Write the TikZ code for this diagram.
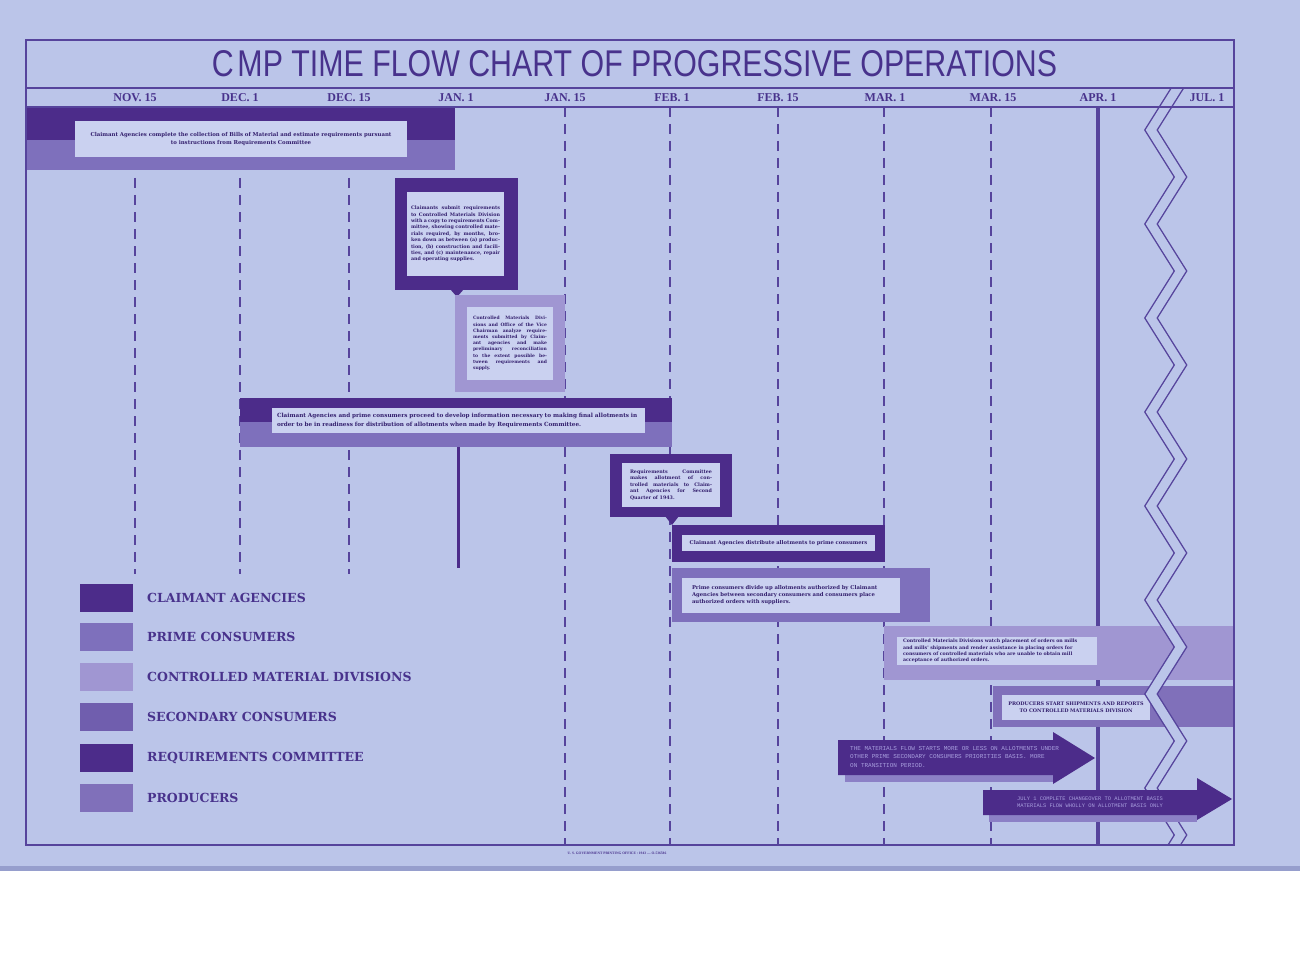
\documentclass[tikz,border=0pt]{standalone}
\usepackage{fontspec}
\usepackage{graphicx}
\setmainfont{Liberation Serif}
\newfontfamily\titlefont{Liberation Sans}
\newfontfamily\legfont{DejaVu Serif}
\newfontfamily\arrfont{Liberation Mono}
\tolerance=9999
\emergencystretch=4pt
\hbadness=10000
\hfuzz=20pt
\definecolor{bgC}{RGB}{187,197,233}
\definecolor{edgeC}{RGB}{150,158,205}
\definecolor{darkP}{RGB}{76,44,138}
\definecolor{primeP}{RGB}{126,112,188}
\definecolor{cmdP}{RGB}{160,150,210}
\definecolor{secP}{RGB}{112,94,174}
\definecolor{prodP}{RGB}{128,112,186}
\definecolor{innerC}{RGB}{202,209,240}
\definecolor{lineC}{RGB}{86,68,156}
\definecolor{txtC}{RGB}{72,50,140}
\definecolor{txtD}{RGB}{52,32,110}
\definecolor{arrTxt}{RGB}{168,158,222}
\definecolor{shadowP}{RGB}{140,128,198}
\begin{document}
\begin{tikzpicture}[x=1pt,y=-1pt,
  dashline/.style={lineC, line width=1.6pt, dash pattern=on 10pt off 7pt},
  solidline/.style={lineC, line width=3.5pt},
  framestyle/.style={lineC, line width=2pt},
  innerbox/.style={fill=innerC, text=txtD, inner ysep=0pt, minimum height=#1},
  boxfont/.style 2 args={font=\legfont\bfseries\fontsize{#1}{#2}\selectfont},
  datelabel/.style={font=\bfseries\fontsize{12}{12}\selectfont, text=txtC, inner sep=0pt},
  legendlabel/.style={font=\legfont\bfseries\fontsize{12.5}{13}\selectfont, text=txtC, anchor=west, inner sep=0pt},
  legendsq/.style={minimum width=53pt, minimum height=28pt, inner sep=0pt, anchor=north west},
  arrowtext/.style={font=\arrfont\fontsize{6}{8.5}\selectfont, text=arrTxt, inner sep=0pt}
]
\useasboundingbox (0,0) rectangle (1300,960);
% background
\fill[bgC] (0,0) rectangle (1300,870);
\fill[white] (0,870) rectangle (1300,960);
\fill[edgeC] (0,866) rectangle (1300,871);

% grid lines
\foreach \x in {135,240,349} \draw[dashline] (\x,178) -- (\x,574);
\foreach \x in {565,670,778,884,991} \draw[dashline] (\x,107) -- (\x,845);
\draw[solidline] (1098,107) -- (1098,845);
\draw[darkP, line width=3pt] (458,447) -- (458,568);

% top bar
\fill[darkP] (26,108) rectangle (455,140);
\fill[primeP] (26,140) rectangle (455,170);
\node[innerbox=36pt, text width=322pt, inner xsep=5pt, align=center, boxfont={5.4}{8}] (t1) at (241,139)
  {Claimant Agencies complete the collection of Bills of Material and estimate requirements pursuant\\ to instructions from Requirements Committee};

% requirements committee box 1
\fill[darkP] (395,178) rectangle (518,290);
\fill[darkP] (450,289) -- (464,289) -- (457,297) -- cycle;
\node[innerbox=84pt, text width=89pt, inner xsep=4pt, align=justify, boxfont={4.8}{6.4}] (r1) at (455.5,234)
  {Claimants submit requirements to Controlled Materials Division with a copy to requirements Committee, showing controlled materials required, by months, broken down as between (a) production, (b) construction and facilities, and (c) maintenance, repair and operating supplies.};

% controlled materials divisions box
\fill[cmdP] (455,295) rectangle (565,392);
\node[innerbox=73pt, text width=74pt, inner xsep=6pt, align=justify, boxfont={4.5}{6.2}] (c1) at (510,343.5)
  {Controlled Materials Divi-\linebreak sions and Office of the Vice\linebreak Chairman analyze require-\linebreak ments submitted by Claim-\linebreak ant agencies and make\linebreak preliminary reconciliation\linebreak to the extent possible be-\linebreak tween requirements and\linebreak supply.};

% second long bar
\fill[darkP] (240,398) rectangle (672,422);
\fill[primeP] (240,422) rectangle (672,447);
\node[innerbox=25pt, text width=363pt, inner xsep=5pt, align=left, boxfont={5.7}{9.5}] (t2) at (458.5,420.5)
  {Claimant Agencies and prime consumers proceed to develop information necessary to making final allotments in\\ order to be in readiness for distribution of allotments when made by Requirements Committee.};

% requirements committee box 2
\fill[darkP] (610,454) rectangle (732,517);
\fill[darkP] (665,516) -- (679,516) -- (672,525) -- cycle;
\node[innerbox=44pt, text width=82pt, inner xsep=8pt, align=justify, boxfont={4.8}{6.6}] (r2) at (671,485)
  {Requirements Committee\linebreak makes allotment of con-\linebreak trolled materials to Claim-\linebreak ant Agencies for Second\linebreak Quarter of 1943.};

% claimant agencies distribute
\fill[darkP] (672,525) rectangle (885,562);
\node[innerbox=16pt, text width=185pt, inner xsep=4pt, align=center, boxfont={5.2}{7}] (d1) at (778.5,543)
  {Claimant Agencies distribute allotments to prime consumers};

% prime consumers
\fill[primeP] (672,568) rectangle (930,622);
\node[innerbox=35pt, text width=198pt, inner xsep=10pt, align=left, boxfont={5.3}{7}] (p1) at (791,595.5)
  {Prime consumers divide up allotments authorized by Claimant\\ Agencies between secondary consumers and consumers place\\ authorized orders with suppliers.};

% controlled materials divisions bar
\fill[cmdP] (884,626) rectangle (1234,680);
\node[innerbox=28pt, text width=188pt, inner xsep=6pt, align=left, boxfont={4.7}{6.3}] (c2) at (997,651)
  {Controlled Materials Divisions watch placement of orders on mills\\ and mills' shipments and render assistance in placing orders for\\ consumers of controlled materials who are unable to obtain mill\\ acceptance of authorized orders.};

% producers bar
\fill[prodP] (993,686) rectangle (1234,727);
\node[innerbox=25pt, text width=144pt, inner xsep=2pt, align=center, boxfont={4.9}{7}] (pr) at (1076,707.5)
  {PRODUCERS START SHIPMENTS AND REPORTS\\ TO CONTROLLED MATERIALS DIVISION};

% zigzag break
\begin{scope}
\clip (26,88) rectangle (1234,845);
\draw[lineC, line width=1.4pt, double=bgC, double distance=9pt, line join=miter]
  (1184,77.5) -- (1151,130) -- (1180.5,177) -- (1151,224) -- (1180.5,271) -- (1151,318)
  -- (1180.5,365) -- (1151,412) -- (1180.5,459) -- (1151,506) -- (1180.5,553) -- (1151,600)
  -- (1180.5,647) -- (1151,694) -- (1180.5,741) -- (1151,788) -- (1180.5,835) -- (1151,882);
\end{scope}

% arrows
\fill[shadowP] (845,775) rectangle (1053,782);
\fill[darkP] (838,740) -- (1053,740) -- (1053,732) -- (1095,758) -- (1053,784) -- (1053,775) -- (838,775) -- cycle;
\node[arrowtext, anchor=north west, align=left] (a1) at (850,746)
  {THE MATERIALS FLOW STARTS MORE OR LESS ON ALLOTMENTS UNDER\\ OTHER PRIME SECONDARY CONSUMERS PRIORITIES BASIS. MORE\\ ON TRANSITION PERIOD.};
\fill[shadowP] (989,815) rectangle (1197,822);
\fill[darkP] (983,790) -- (1197,790) -- (1197,778) -- (1232,799) -- (1197,820) -- (1197,815) -- (983,815) -- cycle;
\node[arrowtext, align=center, font=\arrfont\fontsize{5.4}{7}\selectfont] (a2) at (1090,802)
  {JULY 1 COMPLETE CHANGEOVER TO ALLOTMENT BASIS\\ MATERIALS FLOW WHOLLY ON ALLOTMENT BASIS ONLY};

% legend
\node[legendsq, fill=darkP] (l1) at (80,584) {};
\node[legendsq, fill=primeP] (l2) at (80,623) {};
\node[legendsq, fill=cmdP] (l3) at (80,663) {};
\node[legendsq, fill=secP] (l4) at (80,703) {};
\node[legendsq, fill=darkP] (l5) at (80,744) {};
\node[legendsq, fill=prodP] (l6) at (80,784) {};
\node[legendlabel] (n1) at (147,597.5) {CLAIMANT AGENCIES};
\node[legendlabel] (n2) at (147,637) {PRIME CONSUMERS};
\node[legendlabel] (n3) at (147,677) {CONTROLLED MATERIAL DIVISIONS};
\node[legendlabel] (n4) at (147,717) {SECONDARY CONSUMERS};
\node[legendlabel] (n5) at (147,758) {REQUIREMENTS COMMITTEE};
\node[legendlabel] (n6) at (147,798) {PRODUCERS};

% frame
\draw[framestyle] (26,40) rectangle (1234,845);
\draw[lineC, line width=2.5pt] (26,88) -- (1234,88);
\draw[framestyle] (26,107) -- (1234,107);

% title
\node[inner sep=0pt, text=txtC] (title) at (634.5,64)
  {\resizebox{845pt}{26pt}{\titlefont C\kern0.12em MP TIME FLOW CHART OF PROGRESSIVE OPERATIONS}};

% dates
\node[datelabel] (dn15) at (135,98) {NOV. 15};
\node[datelabel] (dd1) at (240,98) {DEC. 1};
\node[datelabel] (dd15) at (349,98) {DEC. 15};
\node[datelabel] (dj1) at (456,98) {JAN. 1};
\node[datelabel] (dj15) at (565,98) {JAN. 15};
\node[datelabel] (df1) at (672,98) {FEB. 1};
\node[datelabel] (df15) at (778,98) {FEB. 15};
\node[datelabel] (dm1) at (885,98) {MAR. 1};
\node[datelabel] (dm15) at (993,98) {MAR. 15};
\node[datelabel] (da1) at (1098,98) {APR. 1};
\node[datelabel] (dl1) at (1207,98) {JUL. 1};

% footer
\node[inner sep=0pt, text=txtC, font=\bfseries\fontsize{3.6}{4}\selectfont] (foot) at (617,853)
  {U. S. GOVERNMENT PRINTING OFFICE : 1943 --- O-536586};
\end{tikzpicture}
\end{document}
